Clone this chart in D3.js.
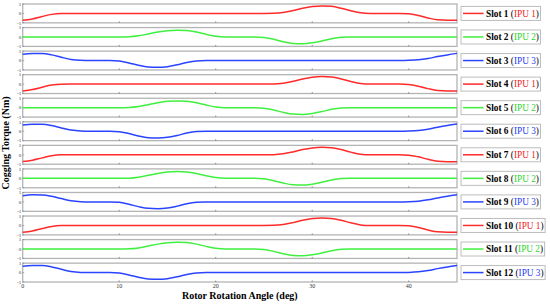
<!DOCTYPE html>
<html>
<head>
<meta charset="utf-8">
<script src="https://cdn.jsdelivr.net/npm/d3@7"></script>
<style>
  body { margin: 0; background: #fff; }
  svg { display: block; }
  text { font-family: "Liberation Serif", "Times New Roman", serif; }
</style>
</head>
<body>
<div id="chart"></div>
<script>
const WIDTH = 550;
const HEIGHT = 305;
const PLOT_LEFT = 22.7;
const PLOT_RIGHT = 457;
const PLOT_TOP = 4;
const PLOT_BOTTOM = 282;

// rotor angle samples (deg)
const angles = [0, 1, 2, 3, 4, 5, 6, 7, 8, 9, 10, 11, 12, 13, 14, 15, 16, 17, 18, 19, 20, 21, 22,
    23, 24, 25, 26, 27, 28, 29, 30, 31, 32, 33, 34, 35, 36, 37, 38, 39, 40, 41, 42, 43, 44, 45];

// cogging torque, one array per IPU
const ipu1 = [-0.72, -0.58, -0.33, -0.1, -0.01, 0, 0, 0, 0, 0, 0, 0, 0, 0, 0, 0, 0, 0, 0, 0, 0, 0, 0,
    0, 0, 0, 0.01, 0.1, 0.3, 0.55, 0.73, 0.8, 0.75, 0.55, 0.28, 0.06, 0, 0, 0, 0,
    -0.04, -0.22, -0.48, -0.68, -0.73, -0.73];
const ipu2 = [0, 0, 0, 0, 0, 0, 0, 0, 0, 0, 0, 0.02, 0.12, 0.32, 0.52, 0.67, 0.72, 0.68, 0.52, 0.28, 0.08, 0, 0,
    0, 0, -0.05, -0.25, -0.5, -0.68, -0.72, -0.62, -0.42, -0.18, -0.03, 0, 0, 0, 0, 0, 0,
    0, 0, 0, 0, 0, 0];
const ipu3 = [0.66, 0.75, 0.74, 0.6, 0.35, 0.12, 0.02, 0, 0, 0, -0.05, -0.25, -0.5, -0.68, -0.72, -0.65, -0.45, -0.2, -0.04, 0, 0, 0, 0,
    0, 0, 0, 0, 0, 0, 0, 0, 0, 0, 0, 0, 0, 0, 0, 0, 0,
    0.02, 0.08, 0.22, 0.42, 0.6, 0.76];

const slotNames = ["Slot 1", "Slot 2", "Slot 3", "Slot 4", "Slot 5", "Slot 6",
    "Slot 7", "Slot 8", "Slot 9", "Slot 10", "Slot 11", "Slot 12"];
const slotIpu = [1, 2, 3, 1, 2, 3, 1, 2, 3, 1, 2, 3];
const ipuSeries = {1: ipu1, 2: ipu2, 3: ipu3};
const ipuColors = {1: "#ff2a2a", 2: "#3ff03f", 3: "#2a44ff"};
const ipuTextColors = {1: "#f01c1c", 2: "#2fd22f", 3: "#2a3cf0"};

const xTicks = [0, 10, 20, 30, 40];
const yTicks = [-1, 0, 1];

const svg = d3.select("#chart").append("svg")
    .attr("width", WIDTH)
    .attr("height", HEIGHT);

const x = d3.scaleLinear().domain([0, 45]).range([PLOT_LEFT, PLOT_RIGHT]);

// one band per slot panel
const band = d3.scaleBand()
    .domain(slotNames)
    .range([PLOT_TOP, PLOT_BOTTOM])
    .paddingInner(0.2)
    .paddingOuter(0);

slotNames.forEach(function (name, i) {
    const top = band(name);
    const h = band.bandwidth();
    const ipu = slotIpu[i];
    const y = d3.scaleLinear().domain([-1, 1]).range([top + h, top]);

    const g = svg.append("g").attr("class", "panel");

    g.append("rect")
        .attr("x", PLOT_LEFT)
        .attr("y", top)
        .attr("width", PLOT_RIGHT - PLOT_LEFT)
        .attr("height", h)
        .attr("fill", "none")
        .attr("stroke", "#b4b4b4")
        .attr("stroke-width", 1.3);

    // small x ticks on the bottom edge of every panel
    g.selectAll(".xt")
        .data(xTicks.filter(d => d > 0))
        .enter().append("line")
        .attr("x1", d => x(d)).attr("x2", d => x(d))
        .attr("y1", top + h).attr("y2", top + h - 1.5)
        .attr("stroke", "#777")
        .attr("stroke-width", 0.8);

    // y tick labels
    g.selectAll(".yl")
        .data(yTicks)
        .enter().append("text")
        .attr("x", PLOT_LEFT - 1.5)
        .attr("y", d => y(d))
        .attr("dy", "0.35em")
        .attr("text-anchor", "end")
        .attr("font-size", "5px")
        .attr("fill", "#333")
        .text(d => d);

    g.selectAll(".yt")
        .data(yTicks)
        .enter().append("line")
        .attr("x1", PLOT_LEFT).attr("x2", PLOT_LEFT + 1.5)
        .attr("y1", d => y(d)).attr("y2", d => y(d))
        .attr("stroke", "#777")
        .attr("stroke-width", 0.6);

    const line = d3.line()
        .x((d, k) => x(angles[k]))
        .y(d => y(d))
        .curve(d3.curveMonotoneX);

    g.append("path")
        .datum(ipuSeries[ipu])
        .attr("d", line)
        .attr("fill", "none")
        .attr("stroke", ipuColors[ipu])
        .attr("stroke-width", 1.5);

    // legend entry for this slot
    const cy = top + h / 2;
    const lg = svg.append("g").attr("class", "legend");
    const box = lg.append("rect")
        .attr("x", 461)
        .attr("y", cy - 7)
        .attr("height", 14)
        .attr("fill", "#fff")
        .attr("stroke", "#bdbdbd")
        .attr("stroke-width", 1);
    lg.append("line")
        .attr("x1", 463).attr("x2", 483.5)
        .attr("y1", cy).attr("y2", cy)
        .attr("stroke", ipuColors[ipu])
        .attr("stroke-width", 1.5);
    const label = lg.append("text")
        .attr("x", 486)
        .attr("y", cy)
        .attr("dy", "0.35em")
        .attr("font-size", "9.3px");
    label.append("tspan").attr("font-weight", "bold").attr("fill", "#000").text(name);
    label.append("tspan").attr("fill", "#000").text(" (");
    label.append("tspan").attr("fill", ipuTextColors[ipu]).text("IPU " + ipu);
    label.append("tspan").attr("fill", "#000").text(")");
    const tw = label.node().getComputedTextLength();
    box.attr("width", 486 + tw + 1.5 - 461);
});

// x tick labels under the last panel
svg.selectAll(".xlab")
    .data(xTicks)
    .enter().append("text")
    .attr("x", d => x(d))
    .attr("y", PLOT_BOTTOM + 4.2)
    .attr("dy", "0.35em")
    .attr("text-anchor", "middle")
    .attr("font-size", "6px")
    .attr("fill", "#333")
    .text(d => d);

svg.append("text")
    .attr("x", (PLOT_LEFT + PLOT_RIGHT) / 2)
    .attr("y", 298.5)
    .attr("text-anchor", "middle")
    .attr("font-size", "10px")
    .attr("font-weight", "bold")
    .text("Rotor Rotation Angle (deg)");

svg.append("text")
    .attr("transform", "translate(9," + (PLOT_TOP + PLOT_BOTTOM) / 2 + ") rotate(-90)")
    .attr("text-anchor", "middle")
    .attr("font-size", "10px")
    .attr("font-weight", "bold")
    .text("Cogging Torque (Nm)");
</script>
</body>
</html>
